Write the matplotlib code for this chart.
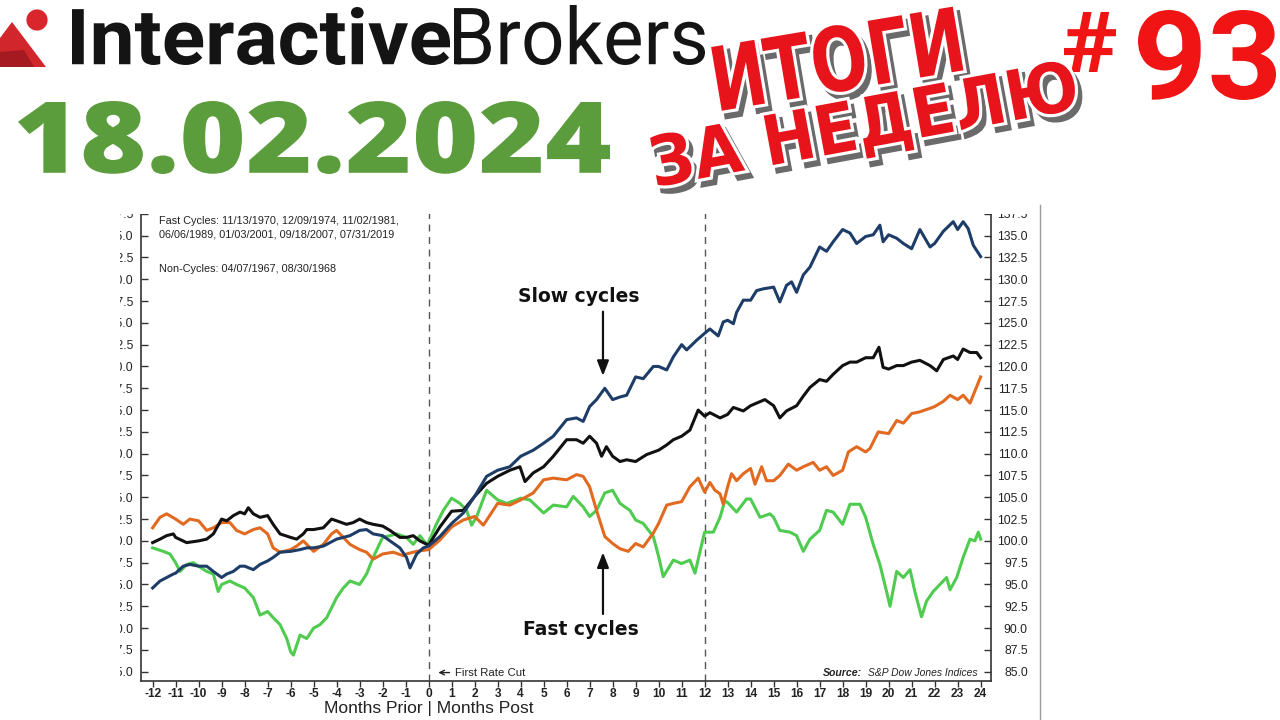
import matplotlib
matplotlib.use("Agg")
import matplotlib.pyplot as plt
from matplotlib.textpath import TextPath
from matplotlib.font_manager import FontProperties
from matplotlib.patches import PathPatch, Polygon, Circle, Rectangle
from matplotlib.lines import Line2D
from matplotlib.transforms import Affine2D, IdentityTransform

plt.rcParams['font.family'] = ['Liberation Sans', 'DejaVu Sans']
plt.rcParams['axes.unicode_minus'] = False

# ---- data (months relative to first rate cut, index level) ----
slow_m = [-12.0, -11.68, -11.1, -11.0, -10.67, -10.38, -10.0, -9.65, -9.36, -9.0, -8.78, -8.49, -8.2, -8.0,
          -7.62, -7.33, -7.0, -6.76, -6.46, -6.0, -5.59, -5.3, -5.0, -4.58, -4.29, -4.0, -3.71, -3.42, -3.0,
          -2.7, -2.41, -2.0, -1.68, -1.25, -0.96, -0.81, -0.52, -0.23, 0.0, 0.49, 1.0, 1.51, 2.0, 2.52, 3.0,
          3.53, 4.0, 4.55, 5.0, 5.42, 6.0, 6.43, 6.72, 7.0, 7.3, 7.66, 8.0, 8.32, 8.61, 9.0, 9.33, 9.77, 10.0,
          10.35, 10.64, 11.0, 11.22, 11.65, 12.0, 12.23, 12.59, 12.81, 13.0, 13.25, 13.39, 13.68, 14.0, 14.26,
          14.55, 15.0, 15.27, 15.56, 15.78, 16.0, 16.29, 16.58, 17.0, 17.3, 17.59, 18.0, 18.32, 18.61, 19.0,
          19.33, 19.62, 19.76, 20.0, 20.35, 20.64, 21.0, 21.36, 21.8, 22.0, 22.38, 22.81, 23.0, 23.24, 23.46,
          23.68, 24.0]
slow_v = [94.6, 95.4, 96.2, 96.3, 97.1, 97.3, 97.1, 97.1, 96.5, 95.8, 96.2, 96.5, 97.1, 97.1, 96.7, 97.3,
          97.7, 98.1, 98.7, 98.8, 99.0, 99.2, 99.2, 99.4, 99.8, 100.2, 100.4, 100.6, 101.2, 101.3, 100.8, 100.6,
          100.0, 99.2, 98.1, 96.9, 98.5, 99.2, 99.4, 100.5, 102.0, 103.2, 105.1, 107.4, 108.1, 108.5, 109.7,
          110.4, 111.2, 112.0, 113.9, 114.1, 113.7, 115.4, 116.2, 117.5, 116.2, 116.5, 116.7, 118.8, 118.6,
          120.0, 120.0, 119.6, 121.1, 122.5, 121.9, 123.0, 123.8, 124.3, 123.5, 125.1, 125.3, 124.9, 126.2,
          127.6, 127.6, 128.7, 128.9, 129.1, 127.4, 129.3, 129.7, 128.5, 130.5, 131.4, 133.7, 133.2, 134.3,
          135.7, 135.3, 134.1, 134.9, 135.1, 136.2, 134.3, 135.1, 134.7, 134.1, 133.5, 135.7, 133.7, 134.1,
          135.5, 136.6, 135.7, 136.6, 135.8, 133.9, 132.6]

all_m = [-12.0, -11.68, -11.39, -11.1, -11.0, -10.52, -10.0, -9.65, -9.36, -9.0, -8.78, -8.49, -8.2, -8.0,
         -7.84, -7.62, -7.33, -7.0, -6.76, -6.46, -6.0, -5.74, -5.45, -5.3, -5.0, -4.58, -4.22, -4.0, -3.57,
         -3.28, -3.0, -2.7, -2.41, -2.0, -1.68, -1.25, -0.96, -0.67, -0.38, 0.0, 0.49, 1.0, 1.51, 2.0, 2.52,
         3.0, 3.53, 3.97, 4.19, 4.55, 5.0, 5.42, 6.0, 6.43, 6.72, 7.0, 7.3, 7.52, 7.73, 8.0, 8.32, 8.61, 9.0,
         9.48, 10.0, 10.35, 10.64, 11.0, 11.36, 11.72, 12.0, 12.23, 12.67, 13.0, 13.25, 13.68, 14.0, 14.26,
         14.62, 15.0, 15.27, 15.56, 16.0, 16.29, 16.58, 17.0, 17.3, 17.59, 18.0, 18.32, 18.61, 19.0, 19.33,
         19.58, 19.76, 20.0, 20.35, 20.64, 21.0, 21.36, 21.8, 22.09, 22.38, 22.81, 23.0, 23.24, 23.54, 23.83,
         24.0]
all_v = [99.8, 100.2, 100.6, 100.8, 100.4, 99.8, 100.0, 100.2, 100.8, 102.5, 102.3, 102.9, 103.3, 103.1,
         103.8, 103.1, 102.7, 102.9, 101.9, 100.8, 100.4, 100.2, 100.8, 101.3, 101.3, 101.5, 102.5, 102.3,
         101.9, 102.1, 102.5, 102.1, 101.9, 101.7, 101.2, 100.4, 100.4, 100.6, 100.0, 99.5, 101.6, 103.4,
         103.5, 105.1, 106.6, 107.4, 108.1, 108.5, 106.8, 107.8, 108.5, 109.7, 111.6, 111.6, 111.2, 112.0,
         111.2, 109.7, 110.8, 109.7, 109.1, 109.3, 109.1, 109.9, 110.4, 111.0, 111.6, 112.0, 112.7, 115.0,
         114.3, 114.7, 114.1, 114.5, 115.3, 114.9, 115.5, 115.8, 116.2, 115.5, 114.1, 114.9, 115.5, 116.6,
         117.6, 118.5, 118.3, 119.1, 120.1, 120.5, 120.5, 121.0, 121.0, 122.2, 119.9, 119.7, 120.1, 120.1,
         120.5, 120.7, 120.1, 119.5, 120.8, 121.2, 120.8, 122.0, 121.6, 121.6, 121.0]

fast_m = [-12.0, -11.68, -11.39, -11.0, -10.67, -10.38, -10.0, -9.65, -9.36, -9.0, -8.64, -8.35, -8.0, -7.62,
          -7.33, -7.0, -6.76, -6.46, -6.0, -5.74, -5.45, -5.0, -4.58, -4.22, -4.0, -3.71, -3.42, -3.0, -2.7,
          -2.41, -2.0, -1.54, -1.1, -0.96, -0.52, 0.0, 0.49, 1.0, 1.51, 2.0, 2.38, 3.0, 3.53, 4.0, 4.55, 5.0,
          5.42, 6.0, 6.43, 6.72, 7.0, 7.3, 7.66, 8.0, 8.32, 8.68, 9.0, 9.33, 9.77, 10.0, 10.35, 10.64, 11.0,
          11.36, 11.72, 12.0, 12.23, 12.45, 12.67, 12.81, 13.0, 13.17, 13.39, 13.68, 14.0, 14.19, 14.48, 14.69,
          15.0, 15.27, 15.64, 16.0, 16.29, 16.72, 17.0, 17.3, 17.59, 18.0, 18.25, 18.61, 19.0, 19.19, 19.55,
          20.0, 20.35, 20.64, 21.0, 21.36, 21.8, 22.0, 22.38, 22.67, 23.0, 23.24, 23.54, 23.83, 24.0]
fast_v = [101.5, 102.7, 103.1, 102.5, 101.9, 102.5, 102.3, 101.2, 101.5, 102.1, 102.1, 101.2, 100.8, 101.3,
          101.5, 100.8, 99.2, 98.7, 99.0, 99.4, 100.0, 98.8, 99.6, 100.8, 101.2, 100.4, 99.6, 99.0, 98.7, 97.9,
          98.5, 98.7, 98.3, 98.5, 98.8, 99.0, 100.1, 101.6, 102.4, 102.8, 101.8, 104.3, 104.1, 104.7, 105.5,
          107.0, 107.2, 107.0, 107.6, 107.4, 106.2, 103.5, 100.5, 99.7, 99.1, 98.8, 99.7, 99.3, 100.9, 102.0,
          104.1, 104.3, 104.5, 106.2, 107.2, 105.6, 106.7, 105.8, 105.4, 104.2, 106.2, 107.7, 106.9, 107.7,
          108.3, 106.5, 108.5, 106.9, 106.9, 107.5, 108.8, 108.1, 108.5, 109.0, 108.1, 108.5, 107.5, 108.1,
          110.2, 110.8, 110.2, 110.6, 112.5, 112.3, 113.8, 113.5, 114.6, 114.8, 115.2, 115.4, 116.0, 116.7,
          116.2, 116.7, 115.8, 117.7, 118.8]

non_m = [-12.0, -11.54, -11.25, -11.0, -10.81, -10.52, -10.23, -10.0, -9.65, -9.36, -9.15, -9.0, -8.64, -8.35,
         -8.0, -7.62, -7.33, -7.0, -6.76, -6.46, -6.17, -6.0, -5.88, -5.59, -5.3, -5.0, -4.72, -4.43, -4.0,
         -3.71, -3.42, -3.0, -2.7, -2.41, -2.0, -1.68, -1.39, -0.96, -0.67, -0.38, -0.09, 0.0, 0.35, 0.64, 1.0,
         1.36, 1.65, 1.87, 2.09, 2.52, 3.0, 3.39, 3.82, 4.0, 4.4, 5.0, 5.42, 6.0, 6.29, 6.72, 7.0, 7.3, 7.66,
         8.0, 8.32, 8.75, 9.0, 9.33, 9.77, 10.0, 10.2, 10.64, 11.0, 11.36, 11.58, 11.8, 12.0, 12.38, 12.67,
         12.88, 13.0, 13.39, 13.82, 14.0, 14.41, 14.84, 15.0, 15.27, 15.71, 16.0, 16.29, 16.58, 17.0, 17.3,
         17.59, 18.0, 18.32, 18.75, 19.0, 19.33, 19.62, 19.91, 20.06, 20.35, 20.64, 20.93, 21.14, 21.43,
         21.65, 21.94, 22.23, 22.52, 22.67, 22.96, 23.24, 23.54, 23.75, 23.9, 24.0]
non_v = [99.2, 98.8, 98.5, 97.5, 96.5, 97.3, 97.5, 97.1, 96.5, 96.2, 94.2, 95.0, 95.4, 95.0, 94.6, 93.5, 91.5,
         91.9, 91.2, 90.4, 88.8, 87.3, 86.9, 89.2, 88.8, 90.0, 90.4, 91.2, 93.5, 94.6, 95.4, 95.0, 96.2, 98.1,
         100.4, 100.6, 100.8, 100.4, 99.6, 100.6, 99.6, 99.9, 102.0, 103.5, 104.9, 104.3, 103.5, 101.8, 102.8,
         105.8, 104.7, 104.3, 104.7, 104.9, 104.7, 103.2, 104.1, 103.9, 105.1, 103.9, 102.8, 103.5, 105.5,
         105.8, 104.3, 103.5, 102.4, 102.0, 100.5, 98.2, 95.9, 97.8, 97.4, 97.8, 96.3, 98.8, 101.0, 101.0,
         102.7, 104.6, 104.4, 103.3, 104.8, 104.8, 102.7, 103.1, 102.7, 101.2, 101.0, 100.6, 98.8, 100.2,
         101.2, 103.5, 103.3, 101.9, 104.2, 104.2, 102.7, 99.6, 97.3, 94.2, 92.5, 96.5, 95.8, 96.7, 94.2, 91.3,
         93.1, 94.2, 95.0, 95.8, 94.4, 95.8, 98.1, 100.2, 100.0, 101.0, 100.2]

month_ticks = list(range(-12, 25))
level_ticks = [85 + 2.5 * i for i in range(22)]
fast_dates = "Fast Cycles: 11/13/1970, 12/09/1974, 11/02/1981,\n06/06/1989, 01/03/2001, 09/18/2007, 07/31/2019"
non_dates = "Non-Cycles: 04/07/1967, 08/30/1968"

W, H = 1280, 720
fig = plt.figure(figsize=(12.8, 7.2), dpi=100)
fig.patch.set_facecolor('white')

# ---- chart ----
ax = fig.add_axes([0.1099, 0.0546, 0.6643, 0.6524])
ax.plot(non_m, non_v, color='#4fcb4f', lw=2.2, zorder=3)
ax.plot(fast_m, fast_v, color='#e26a20', lw=2.2, zorder=4)
ax.plot(all_m, all_v, color='#111111', lw=2.2, zorder=5)
ax.plot(slow_m, slow_v, color='#1d3d68', lw=2.2, zorder=6)

ax.set_xlim(-12.52, 24.45)
ax.set_ylim(83.97, 137.83)
for xv in (0, 12):
    ax.axvline(xv, color='#555555', lw=1.0, ls=(0, (5, 4)), zorder=2)

ax.spines['top'].set_visible(False)
for s in ('left', 'right', 'bottom'):
    ax.spines[s].set_color('#333333')
    ax.spines[s].set_linewidth(1.2)

ax.set_xticks(month_ticks)
ax.set_xticklabels([str(m) for m in month_ticks], fontweight='bold')
ax.tick_params(axis='x', direction='out', length=4, width=1, pad=1.5, labelsize=8.6,
               colors='#333333', labelcolor='#222222')
ax.set_yticks(level_ticks)
ax.set_yticklabels([f"{v:.1f}" for v in level_ticks])
ax.tick_params(axis='y', direction='in', length=5, width=1, pad=5.5, labelsize=8.7,
               colors='#333333', labelcolor='#222222')

ax2 = ax.twinx()
ax2.set_ylim(ax.get_ylim())
ax2.set_yticks(level_ticks)
ax2.set_yticklabels([f"{v:.1f}" for v in level_ticks])
ax2.tick_params(axis='y', direction='in', length=5, width=1, pad=26.5, labelsize=8.7,
                colors='#333333', labelcolor='#222222')
for lbl in ax2.get_yticklabels():
    lbl.set_horizontalalignment('right')
for s in ax2.spines.values():
    s.set_visible(False)

ax.text(0.0215, 0.989, fast_dates, transform=ax.transAxes, ha='left', va='top',
        fontsize=7.8, color='#222222', linespacing=1.45)
ax.text(0.0215, 0.887, non_dates, transform=ax.transAxes, ha='left', va='top',
        fontsize=7.8, color='#222222')

ax.text(6.54, 128.0, 'Slow cycles', ha='center', va='center', fontsize=13.5,
        fontweight='bold', family='DejaVu Sans', color='#111111')
ax.annotate('', xy=(7.58, 118.6), xytext=(7.58, 126.6),
            arrowprops=dict(arrowstyle='-|>,head_length=0.9,head_width=0.35', color='#111111', lw=1.6))
ax.text(6.63, 89.8, 'Fast cycles', ha='center', va='center', fontsize=13.5,
        fontweight='bold', family='DejaVu Sans', color='#111111')
ax.annotate('', xy=(7.58, 99.0), xytext=(7.58, 91.3),
            arrowprops=dict(arrowstyle='-|>,head_length=0.9,head_width=0.35', color='#111111', lw=1.6))

ax.annotate('First Rate Cut', xy=(0.3, 84.9), xytext=(1.15, 84.9), va='center', ha='left',
            fontsize=8.2, color='#222222',
            arrowprops=dict(arrowstyle='->', color='#222222', lw=1.0))
ax.text(18.85, 84.85, 'Source:', ha='right', va='center', fontsize=7.6, fontweight='bold',
        style='italic', color='#222222')
ax.text(23.85, 84.85, 'S&P Dow Jones Indices', ha='right', va='center', fontsize=7.4,
        style='italic', color='#222222')
ax.text(0.0, -0.06, 'Months Prior | Months Post', transform=ax.get_xaxis_transform(),
        ha='center', va='center', fontsize=12.5, color='#222222')

# chart image edges (the chart is cropped inside the thumbnail)
fig.add_artist(Rectangle((0, 0), 120, H - 200, transform=IdentityTransform(),
                         fc='white', ec='none', zorder=5))
fig.add_artist(Rectangle((120, H - 214), 930, 20, transform=IdentityTransform(),
                         fc='white', ec='none', zorder=5))
fig.add_artist(Line2D([1040, 1040], [0, H - 205], transform=IdentityTransform(),
                      color='#9a9a9a', lw=1.0, zorder=6))


# ---- thumbnail header ----
def text_path(s, x, y_bottom, length, height, family, weight='bold', angle=0.0):
    tp = TextPath((0, 0), s, size=100, prop=FontProperties(family=family, weight=weight))
    bb = tp.get_extents()
    tr = (Affine2D().translate(-bb.x0, -bb.y0)
          .scale(length / bb.width, height / bb.height)
          .rotate_deg(angle).translate(x, H - y_bottom))
    return tr.transform_path(tp)


def add_path(path, z=10, **kw):
    fig.add_artist(PathPatch(path, transform=IdentityTransform(), zorder=z, **kw))


# logo
fig.add_artist(Polygon([(0, H - 67), (0, H - 38), (12, H - 22), (46, H - 67)], closed=True,
                       transform=IdentityTransform(), fc='#d0262c', ec='none', zorder=10))
fig.add_artist(Polygon([(0, H - 67), (0, H - 52), (24, H - 50), (34, H - 67)], closed=True,
                       transform=IdentityTransform(), fc='#a51a20', ec='none', zorder=11))
fig.add_artist(Circle((37, H - 20), 12, transform=IdentityTransform(),
                      fc='#d9262c', ec='white', lw=2, zorder=12))

add_path(text_path('Interactive', 72, 65, 378, 58, 'Roboto', 'bold'), fc='#141414', ec='none')
add_path(text_path('Brokers', 454, 65, 251, 60, 'Roboto', 'normal'), fc='#141414', ec='none')
add_path(text_path('18.02.2024', 18, 174, 592, 73, 'Open Sans', 800), fc='#5b9d3c', ec='none')

for word, x, yb, length, height, ang in [('ИТОГИ', 722, 112, 245, 67, 9.5),
                                         ('ЗА НЕДЕЛЮ', 660, 197, 428, 62, 10.5)]:
    p = text_path(word, x, yb, length, height, 'DejaVu Sans', 'bold', ang)
    add_path(Affine2D().translate(5, -6).transform_path(p), z=10, fc='#6a6a6a', ec='#6a6a6a', lw=3.5)
    add_path(p, z=11, fc='white', ec='white', lw=4.5)
    add_path(p, z=12, fc='#e8141c', ec='none')

add_path(text_path('#', 1064, 72, 52, 60, 'Roboto', 'bold'), fc='#f01414', ec='none')
add_path(text_path('93', 1138, 100, 138, 90, 'Roboto', 'bold'), fc='#f01414', ec='none')

fig.savefig('out.png', dpi=100, facecolor='white')
